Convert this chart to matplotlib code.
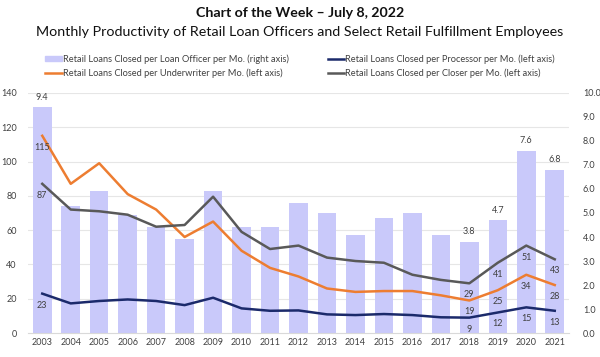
import numpy as np
import matplotlib.pyplot as plt
from matplotlib.patches import Patch
from matplotlib.lines import Line2D

plt.rcParams['font.family'] = ['Lato', 'DejaVu Sans']

years = [str(y) for y in range(2003, 2022)]
lo_per_officer = [9.4, 5.3, 5.9, 4.9, 4.4, 3.9, 5.9, 4.4, 4.4, 5.4, 5.0, 4.1, 4.8, 5.0, 4.1, 3.8, 4.7, 7.6, 6.8]
underwriter = [115, 87, 99, 81, 72, 56, 65, 48, 38, 33, 26, 24, 24.5, 24.5, 22, 19, 25, 34, 28]
processor = [23, 17.3, 18.7, 19.6, 18.7, 16.3, 20.6, 14.4, 13, 13.2, 10.9, 10.5, 11.1, 10.5, 9.2, 9, 12, 15, 13]
closer = [87, 72, 71, 69, 62, 63, 79.5, 59, 49, 51, 44, 42, 41, 34, 31, 29, 41, 51, 43]

bar_labels_idx = [0, 15, 16, 17, 18]
line_labels_idx = [0, 15, 16, 17, 18]

c_bar = '#c9c9fa'
c_orange = '#ed7d31'
c_navy = '#1b2a6b'
c_gray = '#595959'
c_text = '#404040'

x = np.arange(len(years))
left_ticks = list(range(0, 141, 20))

fig = plt.figure(figsize=(6, 3.57), dpi=100)
ax = fig.add_axes([0.0467, 0.067, 0.9016, 0.6728])
ax2 = ax.twinx()

# gridlines follow the left axis but sit behind the bars (right axis)
for t in left_ticks[1:]:
    ax2.axhline(t * 10 / 140, color='#e6e6e6', lw=0.8, zorder=0)

ax2.bar(x, lo_per_officer, width=0.65, color=c_bar, zorder=1)
ax2.set_ylim(0, 10)
ax2.set_yticks(np.arange(0, 10.1, 1))
ax2.set_yticklabels([f'{v:.1f}' for v in np.arange(0, 10.1, 1)])
for i in bar_labels_idx:
    ax2.annotate(f'{lo_per_officer[i]:.1f}', (x[i], lo_per_officer[i]), xytext=(0, 4),
                 textcoords='offset points', ha='center', va='bottom', fontsize=6.5, color=c_text)

ax.set_zorder(ax2.get_zorder() + 1)
ax.patch.set_visible(False)

ax.plot(x, underwriter, color=c_orange, lw=1.8, zorder=3)
ax.plot(x, processor, color=c_navy, lw=1.8, zorder=3)
ax.plot(x, closer, color=c_gray, lw=1.8, zorder=3)
for series in (underwriter, processor, closer):
    for i in line_labels_idx:
        ax.annotate(f'{series[i]:.0f}', (x[i], series[i]), xytext=(0, -5),
                    textcoords='offset points', ha='center', va='top', fontsize=6.5, color=c_text)

ax.set_ylim(0, 140)
ax.set_yticks(left_ticks)
ax.set_xlim(-0.5, len(years) - 0.5)
ax.set_xticks(x)
ax.set_xticklabels(years)

for a in (ax, ax2):
    for s in a.spines.values():
        s.set_visible(False)
    a.tick_params(length=0, labelsize=6.5, colors=c_text)
ax.spines['bottom'].set_visible(True)
ax.spines['bottom'].set_color('#d9d9d9')
ax.tick_params(axis='y', pad=8)
ax2.tick_params(axis='y', pad=10)

fig.text(0.5, 0.963, 'Chart of the Week \u2013 July 8, 2022', ha='center', va='center',
         fontsize=10.2, fontweight='bold', color='#111111')
fig.text(0.5, 0.911, 'Monthly Productivity of Retail Loan Officers and Select Retail Fulfillment Employees',
         ha='center', va='center', fontsize=10.25, color='#111111')

handles = [
    Patch(color=c_bar),
    Line2D([], [], color=c_orange, lw=1.8),
    Line2D([], [], color=c_navy, lw=1.8),
    Line2D([], [], color=c_gray, lw=1.8),
]
labels = [
    'Retail Loans Closed per Loan Officer per Mo. (right axis)',
    'Retail Loans Closed per Underwriter per Mo. (left axis)',
    'Retail Loans Closed per Processor per Mo. (left axis)',
    'Retail Loans Closed per Closer per Mo. (left axis)',
]
leg = fig.legend(handles, labels, ncol=2, loc='center', bbox_to_anchor=(0.5, 0.815),
                 frameon=False, fontsize=6.7, handlelength=1.8, handletextpad=0.05,
                 handleheight=0.5, columnspacing=4.2, labelspacing=0.5, labelcolor=c_text,
                 borderpad=0)

fig.savefig('out.png', dpi=100)
